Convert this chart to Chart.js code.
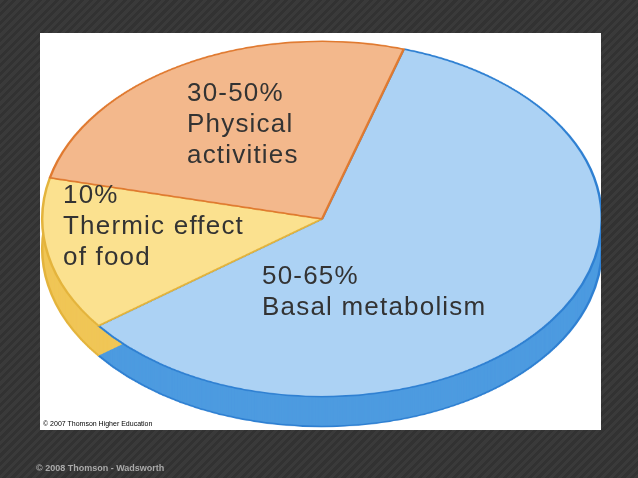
<!DOCTYPE html>
<html><head><meta charset="utf-8">
<script src="https://cdn.jsdelivr.net/npm/chart.js@4"></script>
<style>
  body{margin:0;width:638px;height:478px;overflow:hidden;font-family:"Liberation Sans",Arial,sans-serif;
    background:repeating-linear-gradient(135deg,#3a3a3a 0 3px,#323232 3px 6px);}
  #panel{position:absolute;left:40px;top:33px;width:561px;height:397px;background:#fff;overflow:hidden}
  #wrap{position:absolute;left:-1px;top:4px;width:566px;height:620px;transform:scaleY(0.635);transform-origin:0 0}
  .lbl{position:absolute;font-size:26px;line-height:31px;letter-spacing:1.2px;color:#333}
  .small{position:absolute;font-size:7px;color:#000}
  #foot{position:absolute;left:36px;top:463px;font-size:9px;font-weight:bold;color:#aaa}
</style></head><body>
<div id="panel">
  <div id="wrap"><canvas id="pie" width="566" height="620"></canvas></div>
  <div class="lbl" style="left:147px;top:44px">30-50%<br>Physical<br>activities</div>
  <div class="lbl" style="left:23px;top:146px">10%<br>Thermic effect<br>of food</div>
  <div class="lbl" style="left:222px;top:227px">50-65%<br>Basal metabolism</div>
  <div class="small" style="left:3px;top:387px">© 2007 Thomson Higher Education</div>
</div>
<div id="foot">© 2008 Thomson - Wadsworth</div>
<script>
const categories = ['Basal metabolism', 'Thermic effect of food', 'Physical activities'];
const shares = [60, 14, 26];
const fills = ['#acd2f4', '#fbe18f', '#f3b88c'];
const edges = ['#2f80d2', '#e4b43c', '#e07a30'];
const sides = ['#4d9be0', '#f0c657', '#d9823f'];
const DEPTH = 47;

// draws the rim below each slice to give the pie its thickness
const rimPlugin = {
  id: 'rim',
  beforeDatasetsDraw(chart) {
    const ctx = chart.ctx;
    chart.getDatasetMeta(0).data.forEach((arc, i) => {
      ctx.save();
      for (let d = DEPTH; d >= 1; d--) {
        ctx.beginPath();
        ctx.moveTo(arc.x, arc.y + d);
        ctx.arc(arc.x, arc.y + d, arc.outerRadius, arc.startAngle, arc.endAngle);
        ctx.closePath();
        ctx.fillStyle = sides[i];
        ctx.fill();
      }
      ctx.beginPath();
      ctx.arc(arc.x, arc.y + DEPTH, arc.outerRadius, arc.startAngle, arc.endAngle);
      ctx.strokeStyle = edges[i];
      ctx.lineWidth = 2.5;
      ctx.stroke();
      ctx.restore();
    });
  }
};

new Chart(document.getElementById('pie'), {
  type: 'pie',
  data: {
    labels: categories,
    datasets: [{
      data: shares,
      backgroundColor: fills,
      borderColor: edges,
      borderWidth: 2.5,
    }]
  },
  options: {
    responsive: false,
    animation: false,
    rotation: 17,
    layout: { padding: { top: 2, left: 2, right: 2, bottom: DEPTH + 2 } },
    plugins: { legend: { display: false }, tooltip: { enabled: false } },
  },
  plugins: [rimPlugin]
});
</script>
</body></html>
